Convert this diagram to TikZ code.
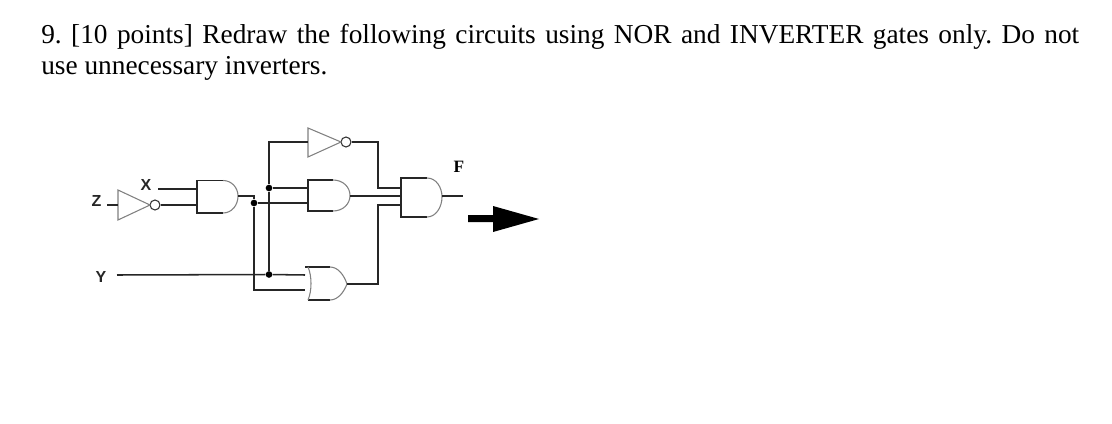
\documentclass[tikz,border=0pt]{standalone}
\usepackage{fontspec}
\setmainfont{Liberation Serif}
\setsansfont{Liberation Sans}
\tikzset{
  wire/.style={line width=1.15pt,draw=black!85},
  outline/.style={line width=0.8pt,draw=black!50},
  junction/.style={circle,fill=black,inner sep=0pt,minimum size=5pt},
  pinlabel/.style={font=\sffamily\bfseries\fontsize{12}{14}\selectfont,text=black!85,inner sep=0pt}
}
\begin{document}
\begin{tikzpicture}[x=0.75pt,y=-0.75pt]
      \useasboundingbox (0,0) rectangle (1112,424);

      \node (question) [anchor=north west,inner sep=0pt,text width=778.5pt,align=justify,
        font=\frenchspacing\fontsize{20.5}{23.6}\selectfont] at (41,24)
        {9. [10 points] Redraw the following circuits using NOR and INVERTER gates only. Do not\linebreak
        use unnecessary inverters.};

      % pins
      \coordinate (zin) at (107,205);
      \coordinate (inva) at (118,205);
      \coordinate (xin) at (158,189);
      \coordinate (anda1) at (197,189);
      \coordinate (anda2) at (197,205);
      \coordinate (andaout) at (238,196);
      \coordinate (bend) at (254,196);
      \coordinate (yin) at (117,275);
      \coordinate (orin1) at (305,275);
      \coordinate (orin2) at (305,290);
      \coordinate (orcorner) at (254,290);
      \coordinate (invb) at (308,142);
      \coordinate (invbcorner) at (269,142);
      \coordinate (andb1) at (308,188);
      \coordinate (andb2) at (308,203);
      \coordinate (andbout) at (350,196);
      \coordinate (invbturn) at (378,142);
      \coordinate (andcturn) at (378,188);
      \coordinate (andc1) at (401,188);
      \coordinate (andc2) at (401,196);
      \coordinate (andc3) at (401,205);
      \coordinate (orturn) at (378,205);
      \coordinate (orbend) at (378,284);
      \coordinate (orout) at (347,284);
      \coordinate (andcout) at (442,196);
      \coordinate (fout) at (463,196);

      \node (dota) [junction] at (254,203) {};
      \node (dotb) [junction] at (269,188) {};
      \node (dotc) [junction] at (269,274.5) {};

      % bubbles
      \node (bubblea) [circle,draw=black!80,line width=0.8pt,inner sep=0pt,minimum size=7.5pt] at (155,205) {};
      \node (bubbleb) [circle,draw=black!80,line width=0.8pt,inner sep=0pt,minimum size=7.5pt] at (346,142) {};

      % inverters
      \draw[outline] (118,190)--(150,205)--(118,220)--cycle;
      \draw[outline] (308,128)--(341,142)--(308,157)--cycle;

      % and gates
      \draw[wire] (223,180.5)--(197,180.5)--(197,213)--(223,213);
      \draw[outline] (223,180.5) .. controls (232,180.5) and (238,188) .. (238,196) .. controls (238,205) and (232,213) .. (223,213);
      \draw[wire] (333,180)--(308,180)--(308,211)--(333,211);
      \draw[outline] (333,180) .. controls (343,180) and (350,187) .. (350,195.5) .. controls (350,204) and (343,211) .. (333,211);
      \draw[wire] (427,178)--(401,178)--(401,217)--(427,217);
      \draw[outline] (427,178) .. controls (436,178) and (442,187) .. (442,197) .. controls (442,207) and (436,217) .. (427,217);

      % or gate
      \draw[wire] (305,267)--(330,267);
      \draw[wire] (308,300)--(330,300);
      \draw[outline] (330,267) .. controls (338,267) and (344,275) .. (347,284) .. controls (344,292) and (338,300) .. (330,300);
      \draw[outline] (308,267) .. controls (312,276) and (312,291) .. (308,300);

      % wires
      \draw[wire] (zin)--(inva);
      \draw[wire] (bubblea)--(anda2);
      \draw[wire] (xin)--(anda1);
      \draw[wire] (andaout)--(bend)--(dota)--(orcorner)--(orin2);
      \draw[wire] (dota)--(andb2);
      \draw[wire] (yin)--(dotc)--(orin1);
      \draw[wire] (invb)--(invbcorner)--(dotb)--(dotc);
      \draw[wire] (dotb)--(andb1);
      \draw[wire] (bubbleb)--(invbturn)--(andcturn)--(andc1);
      \draw[wire] (andbout)--(andc2);
      \draw[wire] (andc3)--(orturn)--(orbend)--(orout);
      \draw[wire] (andcout)--(fout);

      % labels
      \node (zlabel) [pinlabel] at (96.5,200.5) {Z};
      \node (xlabel) [pinlabel] at (146,185) {X};
      \node (ylabel) [pinlabel] at (101,277) {Y};
      \node (flabel) [inner sep=0pt,font=\bfseries\fontsize{13}{15}\selectfont] at (459,167) {F};

      % big arrow
      \fill[black] (468,215)--(493,215)--(493,206)--(539,219)--(493,232)--(493,222)--(468,222)--cycle;
    \end{tikzpicture}
\end{document}
